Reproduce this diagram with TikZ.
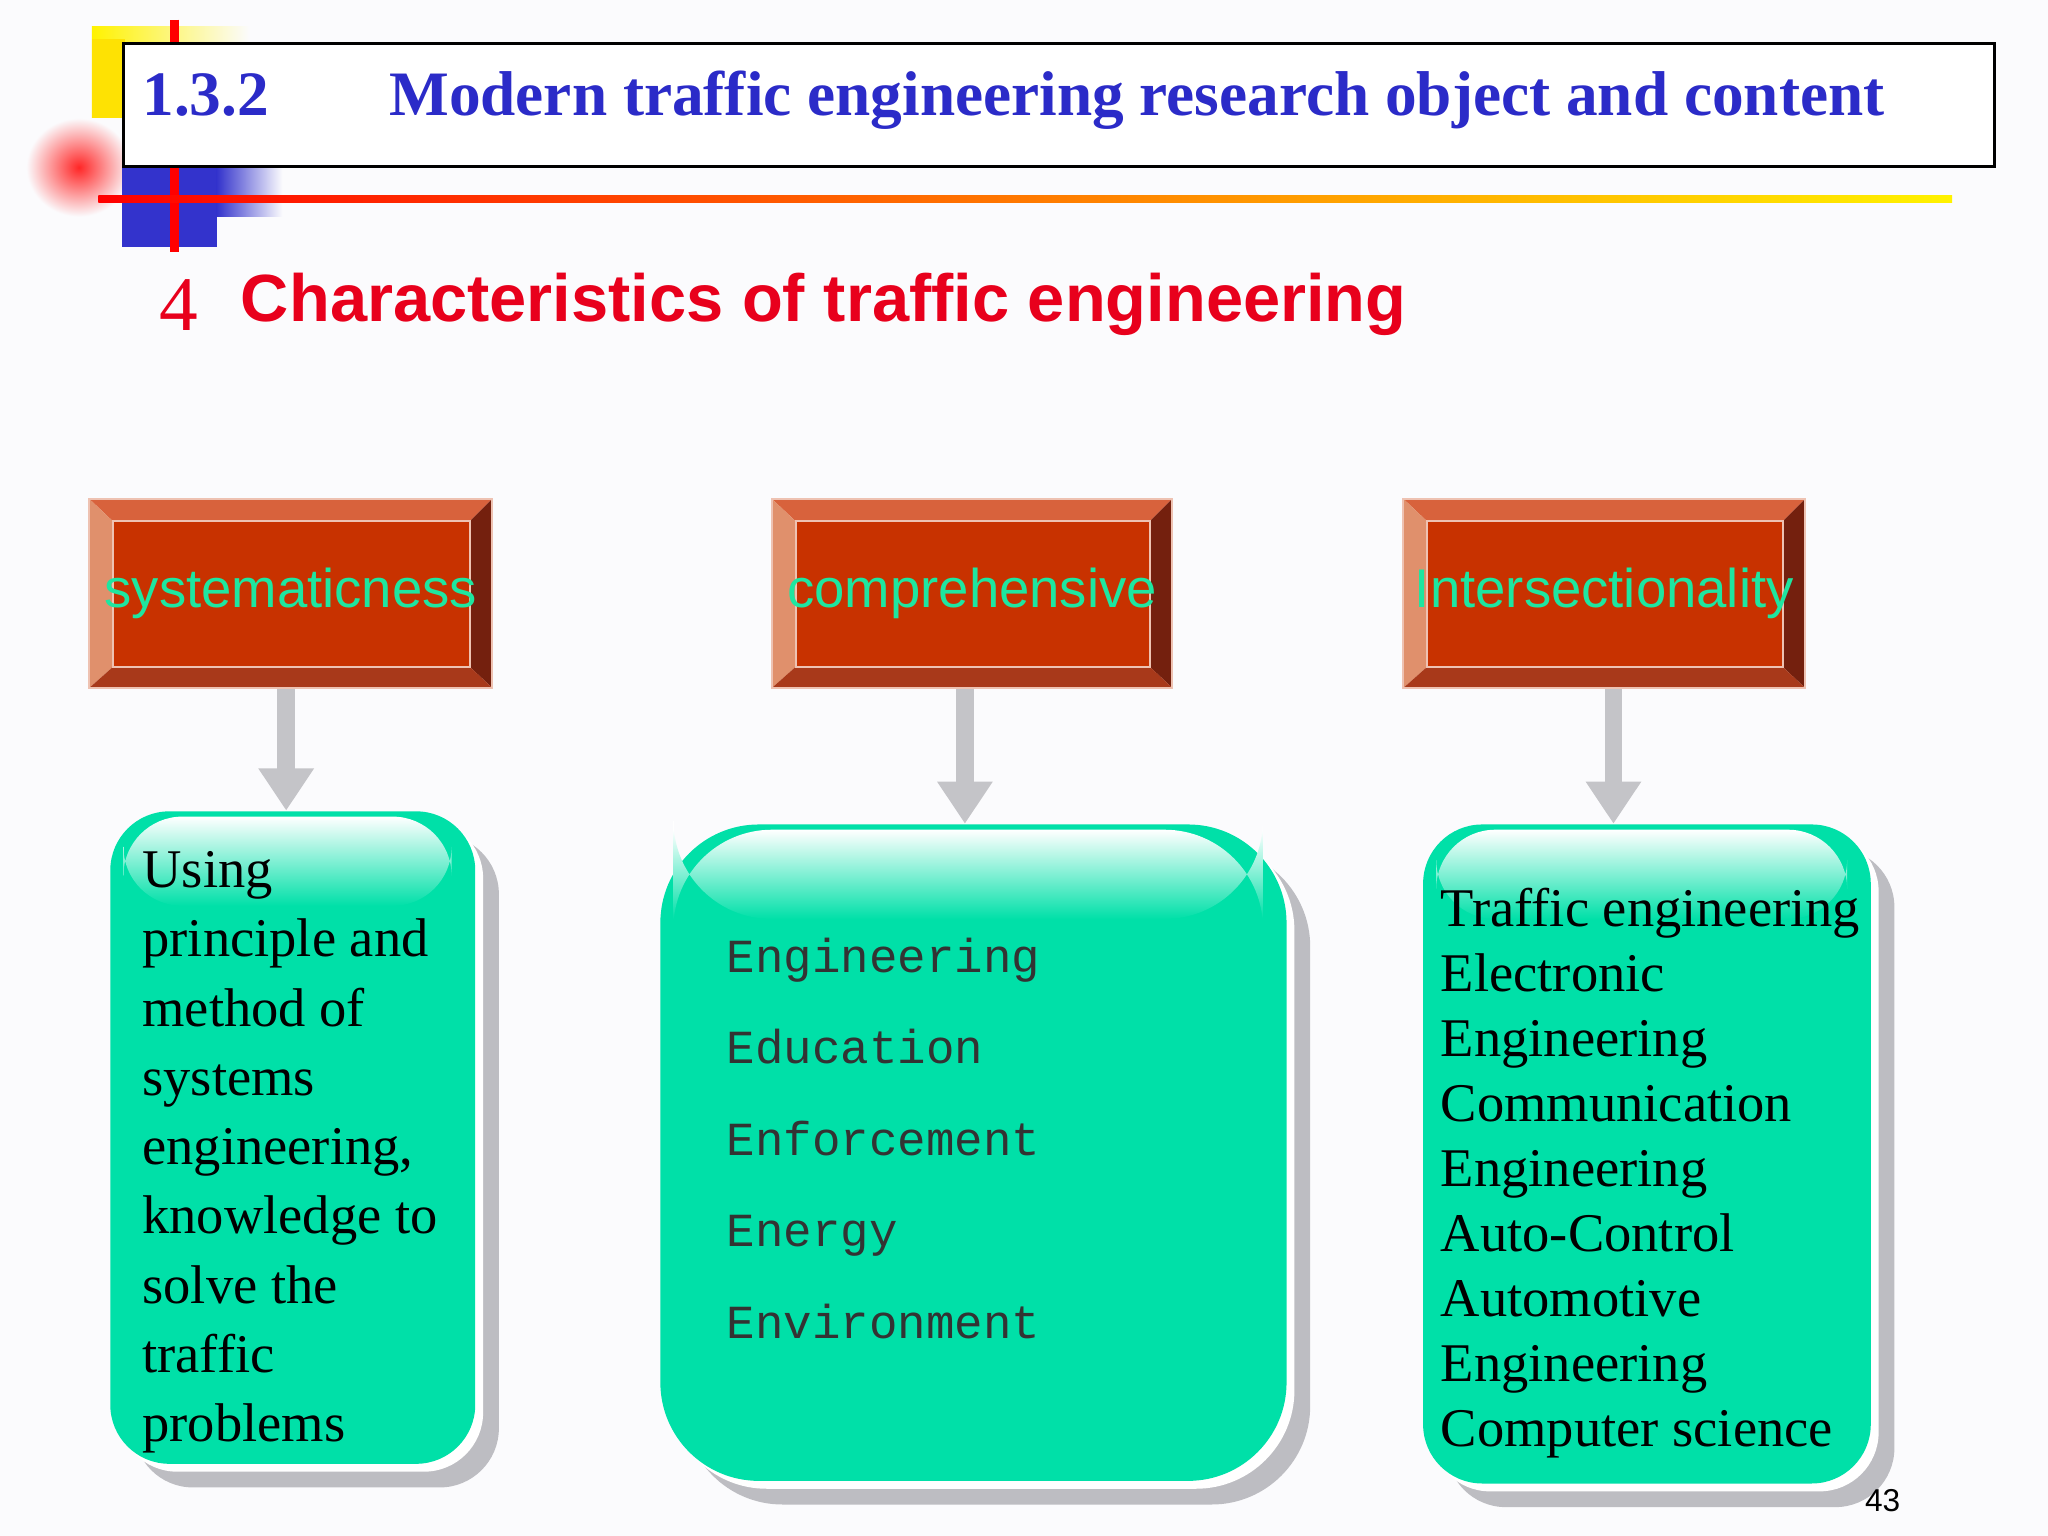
\documentclass[tikz,border=0pt]{standalone}
\usepackage{fontspec}
\setmainfont{Liberation Serif}
\setsansfont{Liberation Sans}
\setmonofont{Liberation Mono}
\usetikzlibrary{arrows.meta,calc}
\definecolor{bg}{HTML}{FBFBFD}
\definecolor{ttlblue}{HTML}{2B2BC8}
\definecolor{hred}{HTML}{E8001C}
\definecolor{face}{HTML}{C83200}
\definecolor{btop}{HTML}{D8623C}
\definecolor{bleft}{HTML}{E0906C}
\definecolor{bright}{HTML}{74200E}
\definecolor{bbot}{HTML}{A8391A}
\definecolor{cyan}{HTML}{1EE6A0}
\definecolor{grn}{HTML}{00E0A8}
\definecolor{shd}{HTML}{BDBDC2}
\definecolor{arr}{HTML}{C4C4C8}
\definecolor{blu}{HTML}{3333CC}
\tikzset{
 hdtext/.style={text=cyan,font=\sffamily\fontsize{15.5}{18}\selectfont,inner sep=0},
 conn/.style={arr,line width=5pt,-{Triangle[width=15pt,length=12pt]}},
 body/.style={align=left,anchor=north west,inner sep=0},
}
\newcommand{\bevelbox}[6]{% name, x1,y1,x2,y2, text
 \fill[btop] (#2,#3) -- (#4,#3) -- ($(#4,#3)+(-17,17)$) -- ($(#2,#3)+(18,17)$) -- cycle;
 \fill[bleft] (#2,#3) -- ($(#2,#3)+(18,17)$) -- ($(#2,#5)+(18,-16)$) -- (#2,#5) -- cycle;
 \fill[bright] (#4,#3) -- ($(#4,#3)+(-17,17)$) -- ($(#4,#5)+(-17,-16)$) -- (#4,#5) -- cycle;
 \fill[bbot] (#2,#5) -- ($(#2,#5)+(18,-16)$) -- ($(#4,#5)+(-17,-16)$) -- (#4,#5) -- cycle;
 \fill[face] ($(#2,#3)+(18,17)$) rectangle ($(#4,#5)+(-17,-16)$);
 \draw[white!70!face,line width=0.6pt] (#2,#3) rectangle (#4,#5);
 \draw[white!70!face,line width=0.6pt] ($(#2,#3)+(18,17)$) rectangle ($(#4,#5)+(-17,-16)$);
 \node[inner sep=0,minimum width={(#4-#2)*0.013128cm},minimum height={(#5-#3)*0.013128cm}] (#1) at ($(#2,#3)!0.5!(#4,#5)$) {};
 \node[hdtext] at ($(#1.center)+(0,0)$) {#6};
}
\newcommand{\greenbox}[6]{% name x1 y1 x2 y2 radius
 \fill[shd,rounded corners=#6*0.013128cm] ($(#2,#3)+(18,18)$) rectangle ($(#4,#5)+(18,18)$);
 \fill[white,rounded corners=#6*0.013128cm] ($(#2,#3)+(6,6)$) rectangle ($(#4,#5)+(6,6)$);
 \fill[grn,rounded corners=#6*0.013128cm] (#2,#3) rectangle (#4,#5);
 \shade[top color=white,bottom color=grn,rounded corners=#6*0.013128cm] ($(#2,#3)+(10,4)$) rectangle ($(#4,#3)+(-18,72)$);
 \node[inner sep=0,minimum width={(#4-#2)*0.013128cm},minimum height={(#5-#3)*0.013128cm}] (#1) at ($(#2,#3)!0.5!(#4,#5)$) {};
}
\begin{document}
\begin{tikzpicture}[x=0.013128cm,y=-0.013128cm]
\fill[bg] (0,0) rectangle (1560,1170);
\useasboundingbox (0,0) rectangle (1560,1170);
% decoration
\shade[left color=yellow!90!orange,right color=bg] (70,20) rectangle (190,92);
\fill[yellow!85!orange] (70,30) rectangle (95,92);
\shade[inner color=red!85,outer color=bg] (20,90) rectangle (100,165);
\fill[blu] (93,128) rectangle (165,188);
\shade[left color=blu,right color=bg] (165,128) rectangle (215,165);
\draw[red,line width=2.5pt] (133,15) -- (133,192);
\shade[left color=red,right color=yellow!90!orange] (75,149) rectangle (1487,154);
% title
\node[draw=black,fill=white,line width=0.8pt,minimum width=1425*0.013128cm,minimum height=94*0.013128cm,anchor=north west,inner sep=0] (title) at (93,32) {};
\node[anchor=west,inner sep=0,text=ttlblue,font=\bfseries\fontsize{18}{20}\selectfont] at (108,76) {1.3.2\hspace{1.9em}Modern traffic engineering research object and content};
% heading
\node[anchor=west,inner sep=0,text=hred,font=\fontsize{22}{24}\selectfont] (num) at (121,232) {4};
\node[anchor=west,inner sep=0,text=hred,font=\sffamily\bfseries\fontsize{19}{22}\selectfont] (head) at (183,232) {Characteristics of traffic engineering};
% header boxes
\bevelbox{h1}{68}{380}{375}{524}{systematicness}
\bevelbox{h2}{588}{380}{893}{524}{comprehensive}
\bevelbox{h3}{1069}{380}{1375}{524}{Intersectionality}
% green boxes
\greenbox{g1}{84}{618}{362}{1115}{45}
\greenbox{g2}{503}{628}{980}{1128}{75}
\greenbox{g3}{1084}{628}{1425}{1130}{45}
% arrows
\draw[conn] (h1.south -| 218,0) -- (g1.north -| 218,0);
\draw[conn] (h2.south -| 735,0) -- (g2.north -| 735,0);
\draw[conn] (h3.south -| 1229,0) -- (g3.north -| 1229,0);
% texts
\node[body,font=\fontsize{15.5}{19.7}\selectfont] (t1) at (108,648) {Using\\principle and\\method of\\systems\\engineering,\\knowledge to\\solve the\\traffic\\problems};
\node[body,text=black!80,font=\ttfamily\fontsize{13.5}{26}\selectfont] (t2) at (553,714) {Engineering\\Education\\Enforcement\\Energy\\Environment};
\node[body,font=\fontsize{15.5}{18.5}\selectfont] (t3) at (1097,676) {Traffic engineering\\Electronic\\Engineering\\Communication\\Engineering\\Auto-Control\\Automotive\\Engineering\\Computer science};
\node[anchor=east,inner sep=0,font=\sffamily\fontsize{9}{10}\selectfont] (pg) at (1448,1143) {43};
\end{tikzpicture}
\end{document}
